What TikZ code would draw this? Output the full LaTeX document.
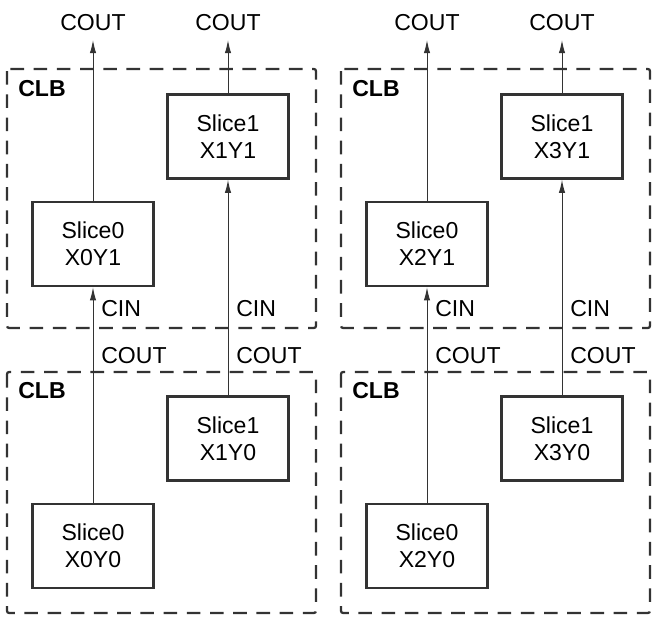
\documentclass[tikz,border=0pt]{standalone}
\usepackage{fontspec}
\setmainfont{Liberation Sans}
\usepackage{xcolor}
\usetikzlibrary{arrows.meta}
\definecolor{linegray}{HTML}{333333}
\tikzset{
  clb/.style={draw=linegray, line width=1.6pt, dash pattern=on 0.34cm off 0.24cm, rounded corners=1.5pt},
  slice/.style={draw=linegray, line width=1.7pt, fill=white, minimum width=3.02cm, minimum height=2.1cm, align=center, inner sep=0pt},
  carry/.style={draw=linegray, line width=0.7pt, -{Latex[length=0.33cm, width=0.16cm]}},
  lbl/.style={inner sep=0pt, text=black}
}
\begin{document}
\begin{tikzpicture}[x=0.025cm, y=-0.025cm, font=\fontsize{16.4}{19.4}\selectfont]
    \useasboundingbox (0,0) rectangle (654,619);
    \foreach \dx/\a/\b in {0/0/1, 334/2/3}{
        % CLB frames
        \draw[clb] (7+\dx,69) rectangle (316+\dx,328);
        \draw[clb] (7+\dx,372) rectangle (316+\dx,613);
        \node[lbl, anchor=west, font=\fontsize{16.4}{19.4}\selectfont\bfseries] at (18+\dx,89) {CLB};
        \node[lbl, anchor=west, font=\fontsize{16.4}{19.4}\selectfont\bfseries] at (18+\dx,391) {CLB};
        % slices
        \node[slice] (x\a y1) at (93+\dx,244) {Slice0\\X\a Y1};
        \node[slice] (x\b y1) at (228+\dx,136.5) {Slice1\\X\b Y1};
        \node[slice] (x\b y0) at (228+\dx,438.5) {Slice1\\X\b Y0};
        \node[slice] (x\a y0) at (93+\dx,546) {Slice0\\X\a Y0};
        % carry chain
        \coordinate (top\a) at (93+\dx,40);
        \coordinate (top\b) at (228+\dx,40);
        \draw[carry] (x\a y0) -- (x\a y1);
        \draw[carry] (x\b y0) -- (x\b y1);
        \draw[carry] (x\a y1) -- (top\a);
        \draw[carry] (x\b y1) -- (top\b);
        \node[lbl] at (93+\dx,23) {COUT};
        \node[lbl] at (228+\dx,23) {COUT};
        \node[lbl, anchor=west] at (101+\dx,309) {CIN};
        \node[lbl, anchor=west] at (236+\dx,309) {CIN};
        \node[lbl, anchor=west] at (101+\dx,356) {COUT};
        \node[lbl, anchor=west] at (236+\dx,356) {COUT};
    }
\end{tikzpicture}
\end{document}
